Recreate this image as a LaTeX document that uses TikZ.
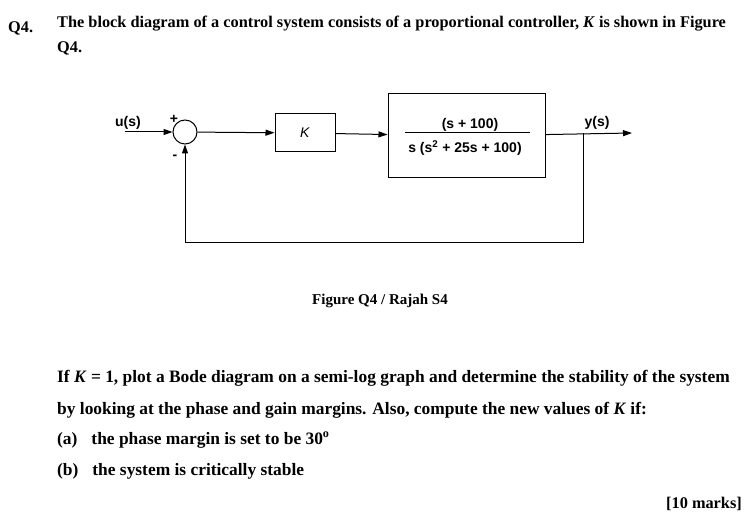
\documentclass[tikz,border=0pt]{standalone}
\usepackage{fontspec}
\setmainfont{Liberation Serif}
\newfontfamily\diag{Liberation Sans}
\usetikzlibrary{arrows.meta}
\begin{document}
\begin{tikzpicture}[x=1pt,y=-1pt,
  txt/.style={anchor=base west,inner sep=0,font=\fontsize{16.3}{18}\selectfont\bfseries},
  ptxt/.style={anchor=base west,inner sep=0,font=\fontsize{17.4}{18}\selectfont\bfseries},
  dt/.style={inner sep=0,font=\diag\fontsize{14}{16}\selectfont\bfseries},
  blk/.style={draw,line width=1pt},
  con/.style={line width=1pt,-{Triangle[length=9pt,width=6pt]}},
  ln/.style={line width=1pt}]
\useasboundingbox[fill=white] (0,0) rectangle (747,518);
\node[txt] (q) at (8,33) {Q4.};
\node[txt] (l1) at (57,28) {The block diagram of a control system consists of a proportional controller, \textit{K} is shown in Figure};
\node[txt] (l2) at (57,53) {Q4.};
% diagram
\coordinate (in) at (125,132);
\node[draw,circle,line width=1pt,minimum size=24pt,inner sep=0] (sum) at (185,132) {};
\node[dt,anchor=base] (u) at (128,127) {u(s)};
\node[dt] (plus) at (174,119) {+};
\node[dt] (minus) at (175,157) {-};
\node[blk,minimum width=60pt,minimum height=38pt,inner sep=0] (k) at (305,133) {\diag\fontsize{14}{16}\selectfont\textit{K}};
\node[blk,minimum width=157pt,minimum height=84pt,inner sep=0] (g) at (466.5,136) {};
\node[dt,anchor=base] (num) at (470,129) {(s + 100)};
\node[dt,anchor=base] (den) at (465,153) {s (s\textsuperscript{2} + 25s + 100)};
\draw[ln] (405,133) -- (530,133);
\coordinate (out) at (632,133);
\coordinate (tap) at (583,133);
\coordinate (c1) at (583,243);
\coordinate (c2) at (185,243);
\node[dt,anchor=base] (y) at (597,127) {y(s)};
\draw[con] (in) -- (sum);
\draw[con] (sum) -- (k);
\draw[con] (k) -- (g);
\draw[con] (g) -- (out);
\draw[ln] (tap) -- (c1) -- (c2);
\draw[con] (c2) -- (sum);
\node[anchor=base,inner sep=0,font=\fontsize{15}{16}\selectfont\bfseries] (cap) at (380,305) {Figure Q4 / Rajah S4};
\node[ptxt] (p1) at (57,383) {If \textit{K} = 1, plot a Bode diagram on a semi-log graph and determine the stability of the system};
\node[ptxt] (p2) at (57,414) {by looking at the phase and gain margins. Also, compute the new values of \textit{K} if:};
\node[ptxt] (pa) at (57,444) {(a)\hspace{14pt}the phase margin is set to be 30\textsuperscript{o}};
\node[ptxt] (pb) at (57,475) {(b)\hspace{14pt}the system is critically stable};
\node[txt,anchor=base east] (m) at (742,508) {[10 marks]};
\end{tikzpicture}
\end{document}
